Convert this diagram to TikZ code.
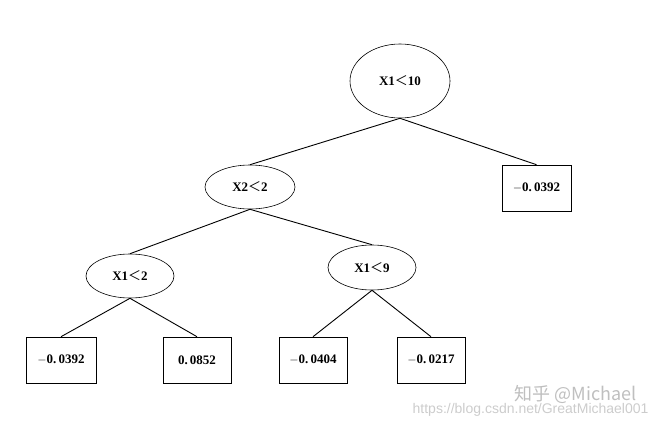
\documentclass[tikz,border=0pt]{standalone}
\usepackage{fontspec}
\setmainfont{Liberation Serif}
\newfontfamily\cjk{Noto Sans CJK SC}
\newfontfamily\wm{Liberation Sans}
\usetikzlibrary{shapes.geometric}
\begin{document}
\begin{tikzpicture}[x=1pt,y=-1pt,
  cond/.style={draw,ellipse,line width=0.6pt,inner sep=0pt,font=\bfseries\fontsize{13}{15}\selectfont},
  leaf/.style={draw,rectangle,line width=0.6pt,inner sep=0pt,font=\bfseries\fontsize{13}{15}\selectfont},
  edge/.style={line width=0.9pt}]
\useasboundingbox (0,0) rectangle (657,426);
\newcommand{\lt}{{\cjk\mdseries ＜}}
\node[cond,minimum width=100pt,minimum height=74pt] (r) at (400,81) {X1\lt10};
\node[cond,minimum width=90pt,minimum height=44pt] (a) at (250,187) {X2\lt2};
\node[leaf,minimum width=69pt,minimum height=46pt] (b) at (536.5,188) {$-$0.\,0392};
\node[cond,minimum width=88pt,minimum height=44pt] (c) at (130,276) {X1\lt2};
\node[cond,minimum width=88pt,minimum height=45pt] (d) at (372,267.5) {X1\lt9};
\node[leaf,minimum width=70pt,minimum height=46pt] (l1) at (61,360) {$-$0.\,0392};
\node[leaf,minimum width=68pt,minimum height=46pt] (l2) at (197,360) {0.\,0852};
\node[leaf,minimum width=68pt,minimum height=46pt] (l3) at (313,360) {$-$0.\,0404};
\node[leaf,minimum width=68pt,minimum height=46pt] (l4) at (431,360) {$-$0.\,0217};
\draw[edge] (r.south) -- (a.north);
\draw[edge] (r.south) -- (b.north);
\draw[edge] (a.south) -- (c.north);
\draw[edge] (a.south) -- (d.north);
\draw[edge] (c.south) -- (l1.north);
\draw[edge] (c.south) -- (l2.north);
\draw[edge] (d.south) -- (l3.north);
\draw[edge] (d.south) -- (l4.north);
\node[text=black!25,font=\cjk\fontsize{18}{20}\selectfont,anchor=east] (w1) at (640,394) {知乎 @Michael};
\node[text=black!20,font=\wm\fontsize{14}{16}\selectfont,anchor=east] (w2) at (652,410) {https://blog.csdn.net/GreatMichael001};
\end{tikzpicture}
\end{document}
